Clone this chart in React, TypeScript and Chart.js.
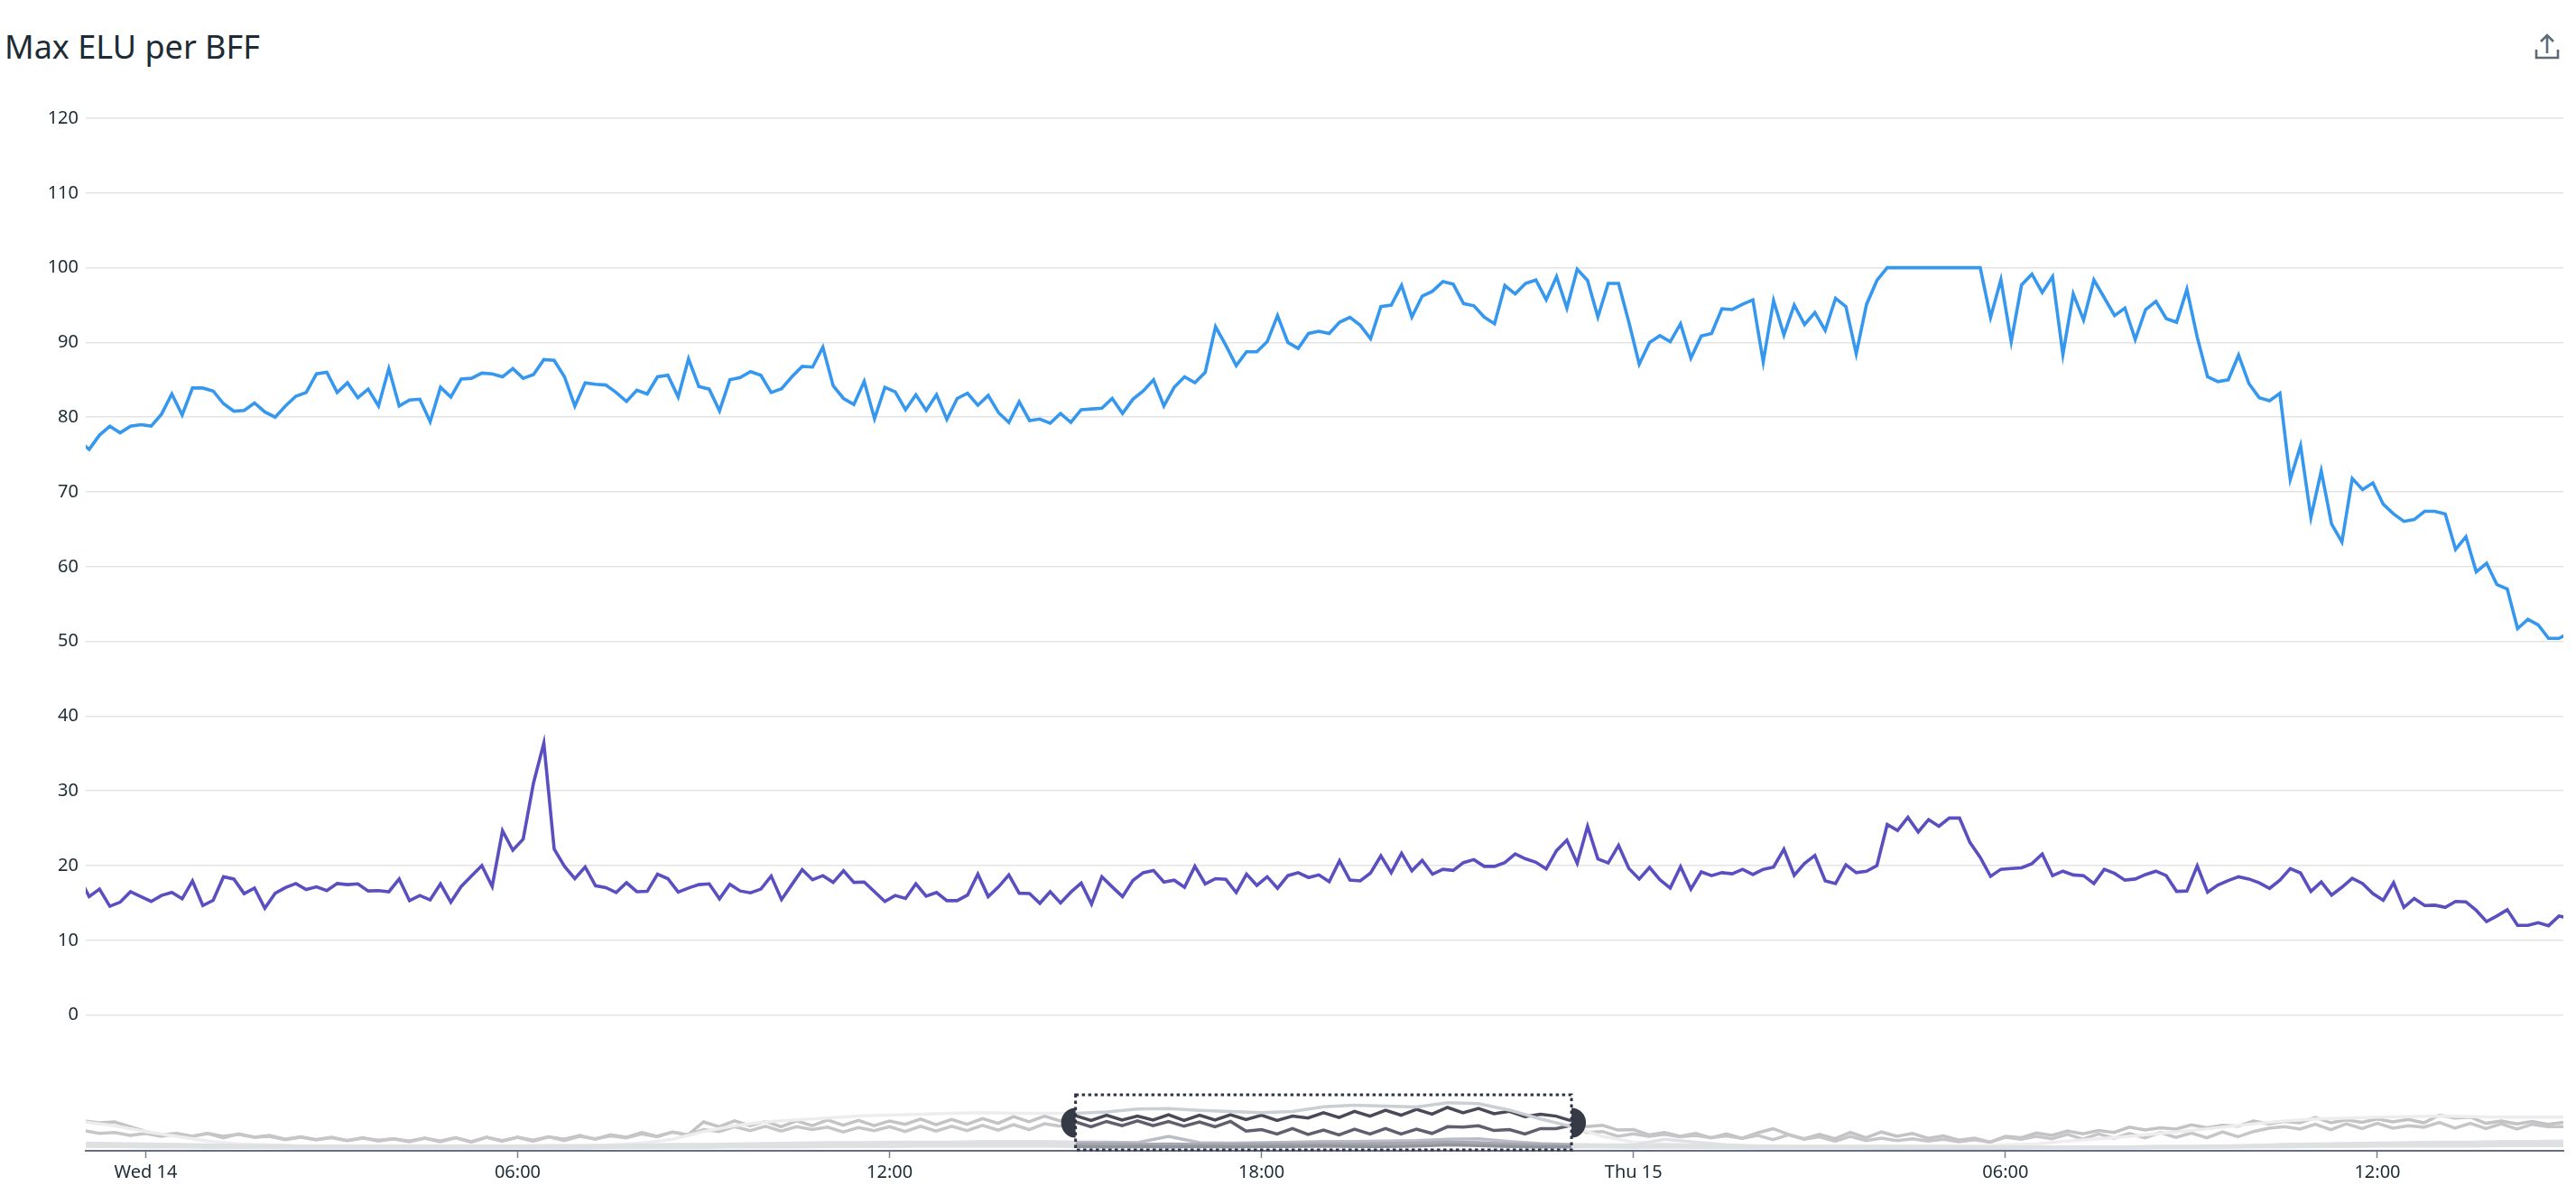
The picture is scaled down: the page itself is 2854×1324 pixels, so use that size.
import { useEffect, useRef } from 'react';
import { Chart, registerables } from 'chart.js';

Chart.register(...registerables);

const TITLE = 'Max ELU per BFF';
const FONT = '"Noto Sans", sans-serif';
const TEXT = '#1c2b34';

// main chart, minutes since Wed 00:00, one sample about every 2 minutes
const WINDOW_MIN = 900;
const WINDOW_MAX = 1380;
const FIRST_SAMPLE = 898.66;
const SAMPLE_STEP = 2.002;

const BLUE = [
  76.8, 75.7, 77.6, 78.8, 77.9, 78.8, 79.0, 78.8, 80.4, 83.1, 80.3, 83.9, 83.9, 83.5, 81.8, 80.8, 80.9, 81.9, 80.7, 80.0,
  81.5, 82.8, 83.3, 85.8, 86.0, 83.3, 84.6, 82.6, 83.75, 81.5, 86.5, 81.5, 82.3, 82.4, 79.4, 84.0, 82.7, 85.1, 85.2, 85.9,
  85.8, 85.4, 86.5, 85.2, 85.7, 87.7, 87.6, 85.4, 81.5, 84.6, 84.4, 84.3, 83.3, 82.1, 83.6, 83.1, 85.4, 85.6, 82.7, 87.8,
  84.1, 83.75, 80.85, 85.0, 85.3, 86.1, 85.6, 83.3, 83.8, 85.4, 86.8, 86.7, 89.35, 84.2, 82.5, 81.7, 84.8, 79.8, 84.0, 83.4,
  81.0, 83.0, 80.9, 83.0, 79.7, 82.5, 83.2, 81.6, 82.9, 80.6, 79.3, 82.05, 79.55, 79.75, 79.2, 80.5, 79.3, 81.0, 81.1, 81.2,
  82.5, 80.5, 82.4, 83.5, 85.0, 81.5, 84.0, 85.4, 84.6, 86.0, 92.1, 89.6, 86.9, 88.75, 88.75, 90.1, 93.6, 90.0, 89.2, 91.2,
  91.5, 91.2, 92.7, 93.35, 92.3, 90.5, 94.8, 95.0, 97.65, 93.4, 96.2, 96.85, 98.15, 97.8, 95.2, 94.9, 93.4, 92.5, 97.6, 96.5,
  97.9, 98.35, 95.7, 98.8, 94.6, 99.8, 98.3, 93.4, 97.9, 97.9, 92.7, 87.1, 90.0, 90.9, 90.1, 92.5, 87.9, 90.85, 91.2, 94.5,
  94.4, 95.1, 95.7, 87.4, 95.6, 91.0, 95.0, 92.4, 94.0, 91.6, 95.9, 94.8, 88.5, 95.1, 98.3, 100, 100, 100, 100, 100,
  100, 100, 100, 100, 100, 93.35, 98.4, 90.1, 97.7, 99.15, 96.7, 98.8, 88.4, 96.5, 93.0, 98.35, 96.0, 93.6, 94.6, 90.4,
  94.4, 95.5, 93.2, 92.7, 97.1, 90.7, 85.4, 84.75, 85.0, 88.3, 84.5, 82.6, 82.2, 83.2, 71.65, 76.2, 66.6, 72.8, 65.7, 63.3,
  71.8, 70.3, 71.2, 68.35, 67.05, 66.05, 66.3, 67.4, 67.4, 67.05, 62.3, 64.0, 59.3, 60.45, 57.6, 57.0, 51.7, 52.95, 52.2, 50.4,
  50.4, 51.1,
];

const PURPLE = [
  18.5, 15.85, 16.85, 14.55, 15.1, 16.5, 15.85, 15.2, 16.0, 16.4, 15.55, 17.95, 14.65, 15.35, 18.5, 18.2, 16.25, 17.0, 14.3, 16.3,
  17.05, 17.6, 16.8, 17.15, 16.65, 17.6, 17.45, 17.55, 16.6, 16.65, 16.5, 18.2, 15.3, 16.0, 15.4, 17.55, 15.1, 17.2, 18.6, 20.0,
  17.2, 24.65, 22.05, 23.55, 31.05, 36.4, 22.2, 19.9, 18.25, 19.8, 17.3, 17.05, 16.4, 17.7, 16.5, 16.55, 18.85, 18.25, 16.45, 17.0,
  17.45, 17.55, 15.55, 17.5, 16.6, 16.35, 16.85, 18.6, 15.45, 17.45, 19.45, 18.1, 18.65, 17.75, 19.3, 17.75, 17.8, 16.5, 15.2, 16.0,
  15.6, 17.55, 15.9, 16.4, 15.3, 15.3, 16.05, 18.85, 15.85, 17.15, 18.75, 16.3, 16.25, 14.95, 16.5, 15.0, 16.45, 17.65, 14.85, 18.5,
  17.15, 15.85, 18.0, 19.05, 19.35, 17.8, 18.05, 17.1, 19.9, 17.55, 18.25, 18.15, 16.4, 18.85, 17.35, 18.5, 16.95, 18.65, 19.05, 18.4,
  18.75, 17.85, 20.65, 18.05, 17.95, 19.0, 21.3, 19.05, 21.65, 19.3, 20.7, 18.85, 19.5, 19.35, 20.4, 20.8, 19.9, 19.9, 20.4, 21.55,
  20.9, 20.45, 19.55, 22.0, 23.4, 20.3, 25.25, 20.9, 20.35, 22.7, 19.6, 18.2, 19.75, 18.1, 17.0, 19.85, 16.85, 19.15, 18.65, 19.05,
  18.9, 19.5, 18.8, 19.5, 19.8, 22.2, 18.7, 20.3, 21.35, 17.95, 17.6, 20.1, 19.05, 19.25, 20.0, 25.5, 24.7, 26.45, 24.5, 26.15,
  25.25, 26.35, 26.35, 23.1, 21.1, 18.55, 19.5, 19.6, 19.7, 20.25, 21.55, 18.65, 19.25, 18.75, 18.65, 17.6, 19.5, 18.95, 18.05, 18.2,
  18.8, 19.25, 18.65, 16.55, 16.6, 19.95, 16.45, 17.4, 18.0, 18.5, 18.2, 17.7, 16.95, 18.05, 19.6, 19.0, 16.55, 17.8, 16.05, 17.1,
  18.3, 17.6, 16.25, 15.35, 17.7, 14.4, 15.6, 14.65, 14.7, 14.4, 15.2, 15.15, 14.0, 12.5, 13.25, 14.1, 12.0, 12.0, 12.35, 11.95,
  13.25, 12.95,
];

const Y_MAX = 120;

// navigator strip
const NAV_MIN = -58;
const NAV_MAX = 2340;
const NAV_START = -60;
const NAV_TICKS = [0, 360, 720, 1080, 1440, 1800, 2160];
const NAV_LABELS = ['Wed 14', '06:00', '12:00', '18:00', 'Thu 15', '06:00', '12:00'];

// sampled every 15 minutes
const NAV_UPPER = [
  62, 58, 60, 50, 40, 33, 36, 30, 36, 30, 34, 28, 32, 24, 29, 23, 28, 21, 27, 20,
  25, 19, 26, 20, 27, 19, 28, 21, 28, 22, 29, 24, 32, 24, 33, 28, 38, 30, 39, 33,
  60, 50, 62, 52, 61, 50, 62, 52, 64, 53, 63, 52, 62, 55, 66, 54, 65, 55, 67, 57,
  71, 60, 72, 62, 73, 63, 74, 64, 72, 64, 75, 63, 74, 64, 75, 65, 74, 63, 72, 68,
  79, 69, 82, 72, 84, 74, 86, 76, 90, 79, 88, 77, 82, 71, 76, 72, 62, 50, 53, 43,
  44, 33, 38, 30, 36, 27, 35, 26, 37, 46, 34, 25, 34, 25, 38, 27, 39, 30, 36, 26,
  31, 22, 26, 18, 30, 27, 37, 32, 41, 35, 42, 38, 49, 43, 48, 45, 54, 48, 53, 51,
  62, 56, 61, 58, 69, 58, 64, 59, 66, 60, 65, 58, 74, 68, 70, 57, 62, 56, 61, 55,
  59,
];
const NAV_LOWER = [
  42, 36, 38, 32, 36, 30, 35, 30, 36, 27, 35, 28, 30, 23, 28, 23, 27, 21, 26, 22,
  25, 20, 26, 19, 27, 18, 28, 20, 28, 20, 29, 21, 30, 25, 31, 27, 35, 29, 39, 33,
  44, 40, 50, 42, 51, 41, 50, 44, 49, 39, 48, 42, 50, 40, 51, 41, 51, 42, 53, 43,
  54, 44, 56, 51, 60, 50, 61, 52, 62, 52, 61, 51, 60, 50, 61, 41, 44, 35, 46, 34,
  43, 33, 45, 35, 46, 35, 45, 36, 50, 49, 52, 42, 44, 35, 46, 46, 53, 38, 40, 30,
  35, 30, 34, 29, 32, 27, 31, 26, 32, 23, 33, 24, 29, 20, 30, 21, 26, 21, 25, 20,
  24, 19, 23, 18, 28, 24, 30, 25, 34, 24, 35, 26, 36, 27, 38, 28, 37, 27, 39, 29,
  40, 47, 50, 45, 55, 44, 56, 46, 57, 47, 52, 49, 59, 47, 57, 46, 56, 45, 55, 50,
  50,
];

// sampled every 30 minutes
const NAV_TOP = [
  60, 52, 40, 30, 20, 14, 12, 10, 9, 9, 9, 9, 9, 9, 9, 9, 9, 12, 16, 24,
  40, 52, 60, 64, 68, 72, 74, 76, 78, 79, 78, 78, 78, 80.8, 86.5, 87.7, 84.1, 81.7, 79.3, 81.5,
  91.5, 94.9, 92.7, 91, 100, 98, 84.5, 66, 50.4, 30, 18, 14, 12, 11, 10, 10, 10, 10, 10, 10,
  10, 10, 12, 14, 20, 25, 30, 36, 42, 49, 56, 62, 66, 68, 70, 71, 72, 71, 70, 70,
  70,
];
const NAV_LOW_A = [
  16, 15, 14, 13, 12, 11, 11, 10, 10, 10, 10, 10, 10, 10, 10, 11, 11, 11, 12, 13,
  13, 14, 15, 16, 17, 17, 18, 18, 18, 19, 19, 19, 18, 18, 17, 30, 17, 16, 17, 18,
  19, 19, 20, 21, 24, 25, 19, 15, 13, 12, 12, 24, 18, 12, 10, 9, 9, 9, 9, 9,
  9, 8, 8, 8, 8, 8, 8, 9, 9, 10, 11, 13, 14, 15, 16, 17, 18, 18, 19, 19,
  20,
];
const NAV_LOW_B = [
  12, 12, 11, 11, 10, 10, 9, 9, 9, 8, 8, 8, 8, 8, 8, 9, 9, 9, 10, 11,
  11, 12, 13, 13, 14, 14, 15, 15, 15, 16, 15, 16, 14, 14, 13, 14, 13, 13, 14, 14,
  15, 14, 15, 16, 18, 17, 14, 12, 11, 10, 10, 12, 11, 10, 9, 8, 8, 8, 8, 7,
  7, 7, 7, 8, 8, 8, 8, 9, 9, 10, 11, 12, 13, 14, 14, 15, 15, 16, 15, 15,
  16,
];
const NAV_LOW_C = [
  9, 9, 8, 8, 7, 7, 7, 6, 6, 6, 6, 6, 6, 6, 6, 6, 6, 7, 7, 7,
  7, 8, 8, 8, 9, 9, 9, 10, 10, 10, 10, 10, 9, 8, 9, 8, 9, 8, 9, 9,
  10, 9, 9, 10, 12, 11, 9, 8, 8, 8, 7, 8, 7, 7, 6, 6, 6, 6, 5, 5,
  5, 5, 5, 6, 6, 6, 6, 7, 7, 7, 8, 8, 9, 9, 10, 10, 10, 10, 11, 11,
  11,
];

const navSeries = (values: number[], step: number, outside: string, inside: string) => ({
  data: values.map((y, i) => ({ x: NAV_START + i * step, y })),
  borderColor: outside,
  borderWidth: 3.5,
  pointRadius: 0,
  tension: 0,
  segment: {
    borderColor: (c: any) => (c.p0.parsed.x >= WINDOW_MIN && c.p1.parsed.x <= WINDOW_MAX ? inside : outside),
  },
});

// dotted window and its two handles over the navigator
const selectionPlugin = {
  id: 'selection',
  afterDatasetsDraw(chart: any) {
    const { ctx, chartArea, scales } = chart;
    const l = scales.x.getPixelForValue(WINDOW_MIN);
    const r = scales.x.getPixelForValue(WINDOW_MAX);
    const t = chartArea.top + 2;
    const b = chartArea.bottom - 1;
    const mid = t + 31;
    ctx.save();
    ctx.fillStyle = '#343a46';
    ctx.beginPath();
    ctx.ellipse(l, mid, 16, 16.5, 0, Math.PI / 2, (3 * Math.PI) / 2);
    ctx.fill();
    ctx.beginPath();
    ctx.ellipse(r, mid, 16, 16.5, 0, -Math.PI / 2, Math.PI / 2);
    ctx.fill();
    ctx.strokeStyle = '#2f3542';
    ctx.lineWidth = 3;
    ctx.setLineDash([3.5, 3.5]);
    ctx.strokeRect(l, t, r - l, b - t);
    ctx.restore();
  },
};

export default function App() {
  const mainRef = useRef<HTMLCanvasElement>(null);
  const navRef = useRef<HTMLCanvasElement>(null);

  useEffect(() => {
    if (!mainRef.current || !navRef.current) return;
    const main = new Chart(mainRef.current, {
      type: 'line',
      data: {
        datasets: [
          { data: BLUE.map((y, i) => ({ x: FIRST_SAMPLE + i * SAMPLE_STEP, y })), borderColor: '#3597ee', borderWidth: 3.6, pointRadius: 0, tension: 0 },
          { data: PURPLE.map((y, i) => ({ x: FIRST_SAMPLE + i * SAMPLE_STEP, y })), borderColor: '#5a4fc0', borderWidth: 3.6, pointRadius: 0, tension: 0 },
        ],
      },
      options: {
        responsive: false, animation: false,
        layout: { padding: { left: 0, right: 14, top: 131, bottom: 55.4 } },
        plugins: { legend: { display: false }, tooltip: { enabled: false } },
        scales: {
          x: { type: 'linear', min: WINDOW_MIN, max: WINDOW_MAX, display: false },
          y: {
            min: 0, max: Y_MAX,
            afterFit: (s: any) => { s.width = 95; },
            border: { display: false },
            grid: { color: '#e4e4e6', lineWidth: 1.5, drawTicks: false },
            ticks: { stepSize: 10, padding: 8, color: TEXT, font: { family: FONT, size: 20 } },
          },
        },
      },
    });
    const nav = new Chart(navRef.current, {
      type: 'line',
      data: {
        datasets: [
          navSeries(NAV_LOW_C, 30, '#dfe0e3', '#92949e'),
          navSeries(NAV_LOW_B, 30, '#dfe0e3', '#a6a8b1'),
          navSeries(NAV_LOW_A, 30, '#e0e1e4', '#babdc5'),
          navSeries(NAV_TOP, 30, '#ededee', '#c9cfd4'),
          navSeries(NAV_LOWER, 15, '#c6c6c8', '#615f6e'),
          navSeries(NAV_UPPER, 15, '#c3c3c5', '#4a4957'),
        ],
      },
      options: {
        responsive: false, animation: false,
        layout: { padding: { left: 95, right: 14, top: 21, bottom: 19 } },
        plugins: { legend: { display: false }, tooltip: { enabled: false } },
        scales: {
          x: {
            type: 'linear', min: NAV_MIN, max: NAV_MAX,
            afterBuildTicks: (s: any) => { s.ticks = NAV_TICKS.map((value) => ({ value })); },
            afterFit: (s: any) => { s.height = 30; },
            border: { color: '#666e85', width: 2 },
            grid: { drawOnChartArea: false, tickLength: 8, tickColor: '#7a8192', tickWidth: 1.5 },
            ticks: {
              autoSkip: false, maxRotation: 0, padding: 4, color: TEXT, font: { family: FONT, size: 20 },
              callback: (v: any) => NAV_LABELS[NAV_TICKS.indexOf(v)],
            },
          },
          y: { min: 0, max: Y_MAX, display: false },
        },
      },
      plugins: [selectionPlugin],
    });
    return () => { main.destroy(); nav.destroy(); };
  }, []);

  return (
    <div style={{ position: 'absolute', left: 0, top: 0, width: 2854, height: 1324, background: '#fff', overflow: 'hidden' }}>
      <div style={{ position: 'absolute', left: 5, top: 28, fontFamily: FONT, fontSize: 36, lineHeight: '48px', color: TEXT }}>{TITLE}</div>
      <svg style={{ position: 'absolute', left: 2805, top: 34 }} width={34} height={34} viewBox="0 0 34 34" fill="none" stroke="#5c6b77" strokeWidth={2.6}>
        <path d="M5 21V30H29V21" />
        <path d="M17 25V5M10 12L17 5L24 12" />
      </svg>
      <canvas ref={mainRef} width={2854} height={1180} style={{ position: 'absolute', left: 0, top: 0, width: 2854, height: 1180 }} />
      <canvas ref={navRef} width={2854} height={134} style={{ position: 'absolute', left: 0, top: 1190, width: 2854, height: 134 }} />
    </div>
  );
}
